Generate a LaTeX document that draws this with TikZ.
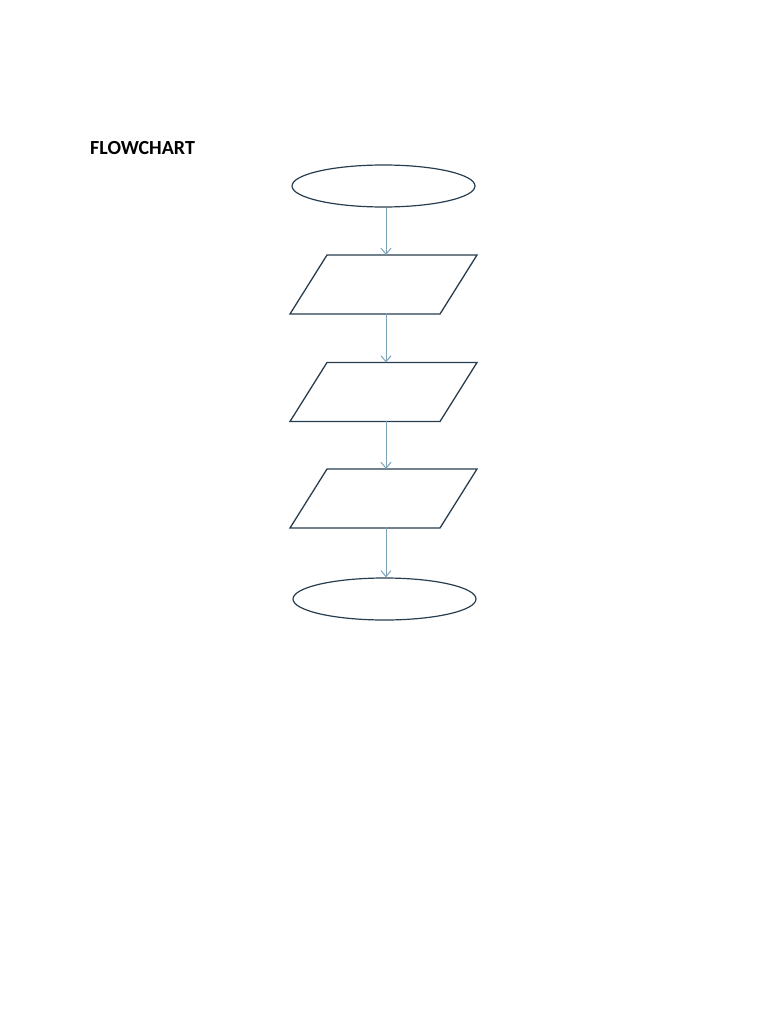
\documentclass[tikz,border=0pt]{standalone}
\usepackage{fontspec}
\setmainfont{Carlito}
\usetikzlibrary{shapes.geometric,arrows.meta}
\definecolor{outl}{RGB}{40,62,78}
\definecolor{arr}{RGB}{125,162,186}
\tikzset{
  term/.style={ellipse, draw=outl, line width=1.2pt, minimum width=183pt, minimum height=42pt, inner sep=0pt},
  io/.style={rectangle, minimum width=187pt, minimum height=59pt, inner sep=0pt, outer sep=0pt},
  ioline/.style={draw=outl, line width=1.3pt, line join=miter},
  flow/.style={draw=arr, line width=1pt, -{Straight Barb[length=6pt,width=10pt]}}
}
\begin{document}
\begin{tikzpicture}[x=1pt,y=-1pt]
\useasboundingbox (0,0) rectangle (768,1024);
\node[anchor=base west, font=\bfseries\fontsize{20}{24}\selectfont, inner sep=0pt] (title) at (90,155) {FLOWCHART};
\node[term] (e1) at (383.5,186) {};
\node[io] (p1) at (383.5,284.5) {};
\node[io] (p2) at (383.5,392) {};
\node[io] (p3) at (383.5,498.5) {};
\node[term] (e2) at (384.5,599) {};
\coordinate (ax) at (386,0);
\foreach \p in {p1,p2,p3}{
  \draw[ioline] (\p.south west) -- ([xshift=-37pt]\p.south east) -- (\p.north east) -- ([xshift=37pt]\p.north west) -- cycle;
}
\draw[flow] (e1.south -| ax) -- (p1.north -| ax);
\draw[flow] ([yshift=1pt]p1.south -| ax) -- (p2.north -| ax);
\draw[flow] ([yshift=1pt]p2.south -| ax) -- (p3.north -| ax);
\draw[flow] ([yshift=1pt]p3.south -| ax) -- (e2.north -| ax);
\end{tikzpicture}
\end{document}
